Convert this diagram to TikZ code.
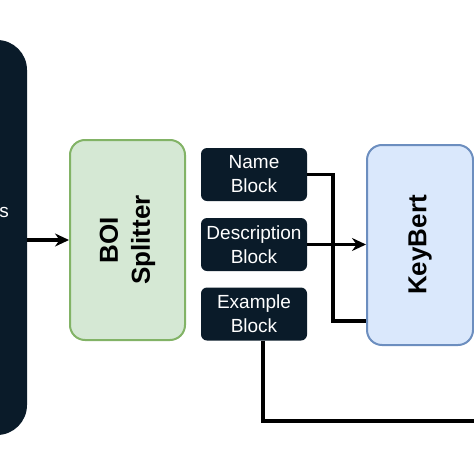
\documentclass[tikz,border=0pt]{standalone}
\usepackage{fontspec}
\setmainfont{Liberation Sans}
\usetikzlibrary{arrows.meta}
\definecolor{darkblock}{HTML}{0A1B29}
\definecolor{splitfill}{HTML}{D5E8D4}
\definecolor{splitline}{HTML}{82B366}
\definecolor{keyfill}{HTML}{DAE8FC}
\definecolor{keyline}{HTML}{6C8EBF}
\begin{document}
\begin{tikzpicture}[x=1pt,y=-1pt,>={Stealth[length=14pt,width=13pt]},
    darkbox/.style={fill=darkblock,rounded corners=6pt,minimum width=106pt,minimum height=53pt,
        inner sep=0pt,text=white,align=center,font=\fontsize{19}{24}\selectfont},
    bigbox/.style={rounded corners=15pt,line width=2pt,minimum height=200pt,inner sep=0pt},
    boldtext/.style={rotate=90,align=center,font=\fontsize{26}{32}\selectfont\bfseries},
    link/.style={line width=3.2pt}]
    \useasboundingbox (0,0) rectangle (474,474);
    \clip (0,0) rectangle (474,474);
    % input on the left, only its edge shows
    \node[fill=darkblock,rounded corners=30pt,minimum width=87pt,minimum height=395pt,inner sep=0pt] (docs) at (-16.5,237.5) {};
    \node[anchor=east,text=white,inner sep=0pt,font=\fontsize{19}{24}\selectfont] (docstext) at (9,212) {s};
    % splitter and blocks
    \node[bigbox,draw=splitline,fill=splitfill,minimum width=115pt] (boi) at (127.5,240) {};
    \node[boldtext] (boitext) at (boi) {BOI\\Splitter};
    \node[darkbox] (name) at (254,174.5) {Name\\Block};
    \node[darkbox] (desc) at (254,244.5) {Description\\Block};
    \node[darkbox] (example) at (254,314) {Example\\Block};
    % keyword extractor
    \node[bigbox,draw=keyline,fill=keyfill,minimum width=106pt] (keybert) at (420,245) {};
    \node[boldtext] (keyberttext) at (keybert) {KeyBert};
    % connectors
    \coordinate (namein) at (keybert.west |- 0,321);
    \coordinate (exout) at (474,421);
    \draw[link,->] (docs.east |- boi.west) -- (boi.west);
    \draw[link] (name.east) -| (333,321) -- (namein);
    \draw[link,->] (desc.east) -- (keybert.west |- desc.east);
    \draw[link] ([xshift=9pt]example.south) |- (exout);
\end{tikzpicture}
\end{document}
